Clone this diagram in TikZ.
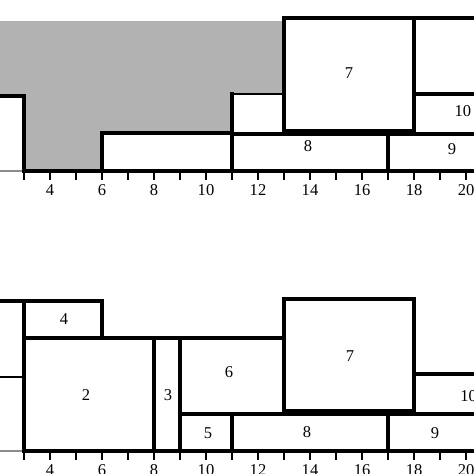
\documentclass[tikz,border=0pt]{standalone}
\usepackage{fontspec}
\setmainfont{Liberation Serif}
\begin{document}
\begin{tikzpicture}[x=0.2mm,y=-0.2mm,
  thk/.style={line width=2pt,line cap=rect},
  mid/.style={line width=1.3pt},
  thn/.style={line width=0.7pt,draw=black!45},
  shade/.style={fill=black!30},
  lbl/.style={font=\fontsize{9.4}{11}\selectfont,inner sep=0pt},
  tick/.style={font=\fontsize{9.4}{11}\selectfont,inner sep=0pt,anchor=base}]
\clip (0,0) rectangle (474,474);
\fill[white] (0,0) rectangle (474,474);
\begin{scope}[x=5.2mm,xshift=-10.8mm]
% ---------- top panel ----------
\fill[shade] (2,21) -- (13,21) -- (13,94) -- (11,94) -- (11,133) -- (6,133) -- (6,171) -- (3,171) -- (3,96) -- (2,96) -- cycle;
\draw[thn] (2,171) -- (3,171);
\draw[thk] (2,96) -- (3,96) -- (3,171);
\draw[thk] (6,171) -- (6,133) -- (11,133);
\draw[mid] (11,94) -- (13,94);
\draw[thk] (11,94) -- (11,171);
\draw[thk] (11,134) -- (21,134);
\draw[thk] (13,18) rectangle (18,131);
\draw[thk] (17,134) -- (17,171);
\draw[thk] (18,94) -- (21,94);
\draw[thk] (18,18) -- (21,18);
\draw[thk] (3,171) -- (21,171);
\foreach \i in {3,...,21} \draw[mid] (\i,171) -- (\i,180);
\foreach \i in {4,6,...,20} \node[tick] (ta\i) at (\i,195) {\i};
\node[lbl] (t7) at (15.5,73) {7};
\node[lbl] (t8) at (13.92,146) {8};
\node[lbl] (t9) at (19.46,149) {9};
\node[lbl] (t10) at (19.88,111) {10};
% ---------- bottom panel ----------
\draw[thk] (2,301) -- (6,301) -- (6,338);
\draw[thk] (3,301) -- (3,451);
\draw[mid] (2,377) -- (3,377);
\draw[thn] (2,451) -- (3,451);
\draw[thk] (3,338) -- (13,338);
\draw[thk] (8,338) -- (8,451);
\draw[thk] (9,338) -- (9,451);
\draw[thk] (9,414) -- (21,414);
\draw[thk] (11,414) -- (11,451);
\draw[thk] (13,299) rectangle (18,411);
\draw[thk] (17,414) -- (17,451);
\draw[thk] (18,374) -- (21,374);
\draw[thk] (3,451) -- (21,451);
\foreach \i in {3,...,21} \draw[mid] (\i,451) -- (\i,460);
\foreach \i in {4,6,...,20} \node[tick] (ba\i) at (\i,475) {\i};
\node[lbl] (b4) at (4.54,319) {4};
\node[lbl] (b2) at (5.38,395) {2};
\node[lbl] (b3) at (8.54,395) {3};
\node[lbl] (b6) at (10.88,372) {6};
\node[lbl] (b5) at (10.08,433) {5};
\node[lbl] (b7) at (15.54,356) {7};
\node[lbl] (b8) at (13.88,432) {8};
\node[lbl] (b9) at (18.81,433) {9};
\node[lbl] (b10) at (20.1,396) {10};
\end{scope}
\end{tikzpicture}
\end{document}
